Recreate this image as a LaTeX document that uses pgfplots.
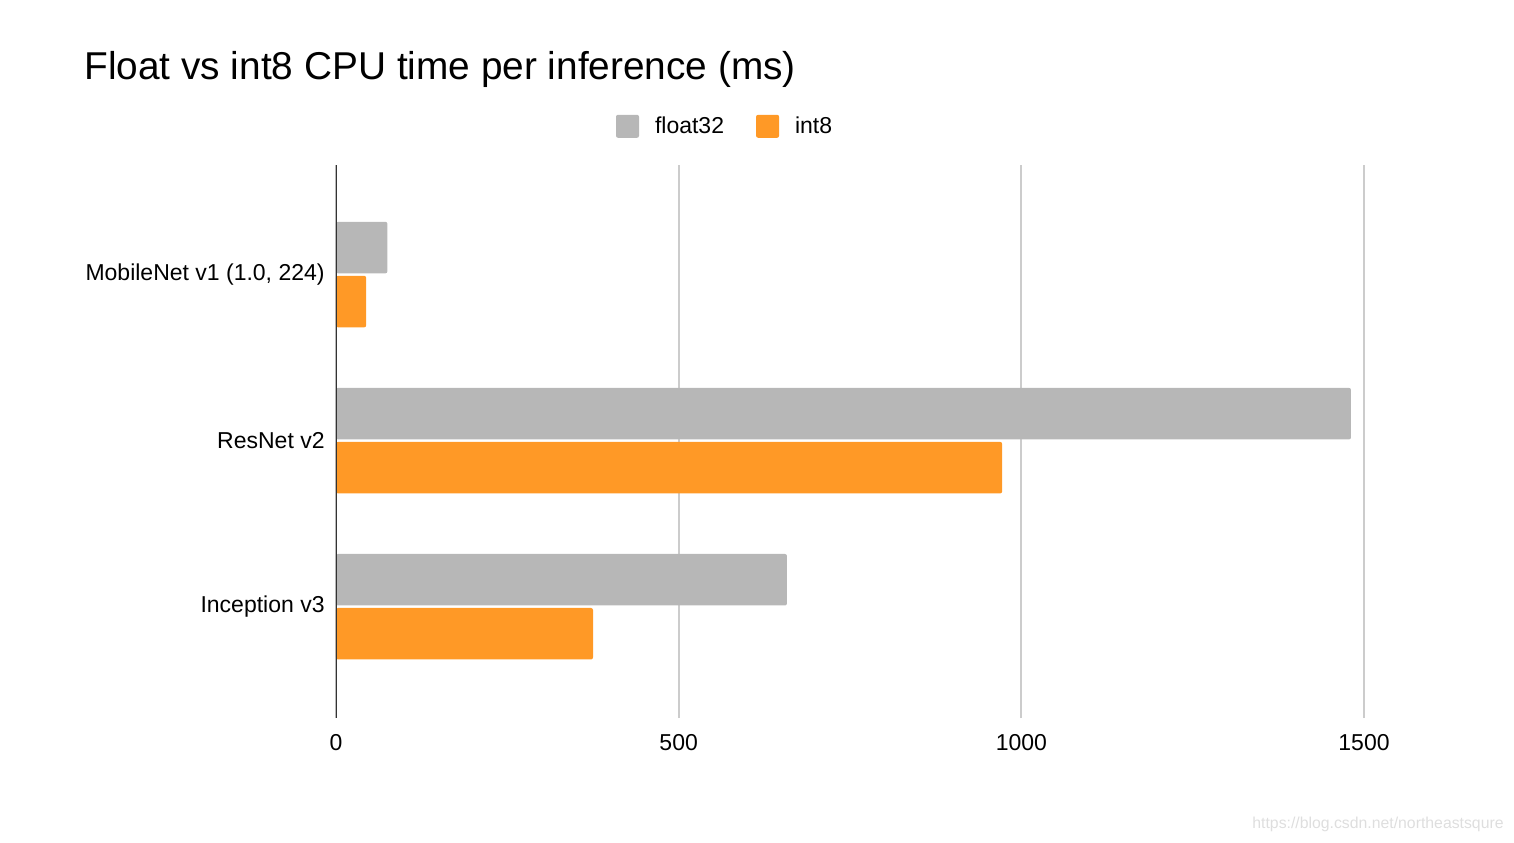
\documentclass[border=0pt]{standalone}
\usepackage{fontspec}
\setmainfont{Liberation Sans}
\usepackage{pgfplots}
\pgfplotsset{compat=1.18}

\definecolor{barGray}{RGB}{183,183,183}
\definecolor{barOrange}{RGB}{255,153,38}
\definecolor{gridGray}{RGB}{204,204,204}
\definecolor{axisDark}{RGB}{51,51,51}

\begin{document}
\begin{tikzpicture}
\begin{axis}[
    at={(0,0)}, anchor=south west,
    scale only axis,
    width=514pt, height=276.5pt,
    xbar, bar width=25.75pt,
    xmin=0, xmax=1500,
    ymin=-0.67, ymax=2.66,
    xtick={0,500,1000,1500},
    ytick={0,1,2},
    yticklabels={Inception v3, ResNet v2, {MobileNet v1 (1.0, 224)}},
    major tick length=0pt,
    axis line style={draw=none},
    xmajorgrids,
    major grid style={color=gridGray, line width=1pt},
    font=\fontsize{11.5pt}{13pt}\selectfont,
    /pgf/number format/assume math mode=true,
    /pgf/number format/1000 sep=,
    xticklabel style={anchor=base, inner sep=0pt, yshift=-16pt},
    yticklabel style={anchor=east, inner sep=0pt, xshift=-5.5pt},
    legend style={at={(axis description cs:0.2724,1.07)}, anchor=west,
        draw=none, fill=none, inner sep=0pt, outer sep=0pt,
        legend columns=-1,
        font=\fontsize{11.5pt}{13pt}\selectfont,
        nodes={inner sep=0pt},
        /tikz/every odd column/.append style={column sep=8pt},
        /tikz/every even column/.append style={column sep=16pt}},
    legend image code/.code={\fill[#1, rounded corners=1pt] (0pt,-5.75pt) rectangle (11.5pt,5.75pt);},
]
\addplot[fill=barGray, draw=none, rounded corners=1pt, bar shift=13.5pt]
    coordinates {(658,0) (1481,1) (75,2)};
\addplot[fill=barOrange, draw=none, rounded corners=1pt, bar shift=-13.5pt]
    coordinates {(375,0) (972,1) (44,2)};
\legend{float32, int8}
\draw[axisDark, line width=1pt] (axis cs:0,-0.67) -- (axis cs:0,2.66);
\end{axis}
\node[anchor=base west, inner sep=0pt, font=\fontsize{19.4pt}{22pt}\selectfont]
    at (-126pt,319pt) {Float vs int8 CPU time per inference (ms)};
\node[anchor=base east, inner sep=0pt, text=black!13, font=\fontsize{7.9pt}{9pt}\selectfont]
    at (584pt,-55pt) {https://blog.csdn.net/northeastsqure};
\pgfresetboundingbox
\path[use as bounding box] (-168pt,-62pt) rectangle (589pt,359pt);
\end{tikzpicture}
\end{document}
